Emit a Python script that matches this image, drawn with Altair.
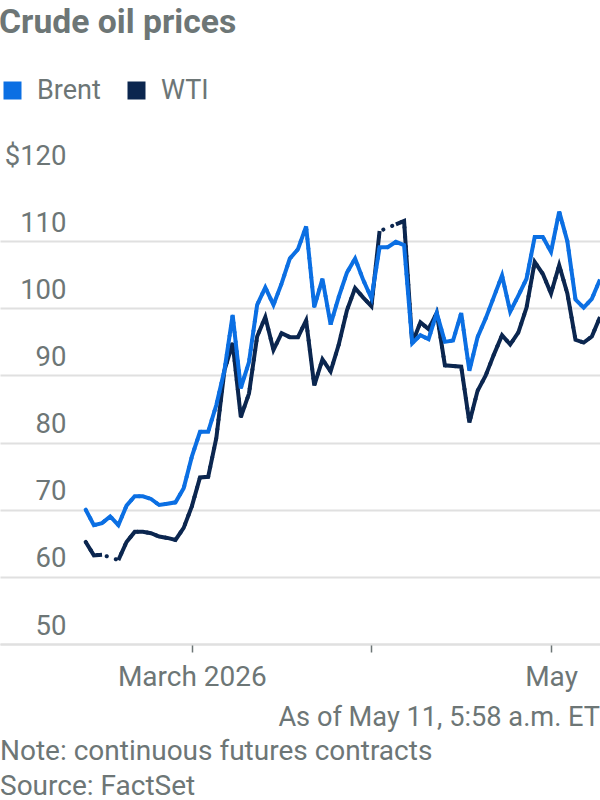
import altair as alt
import pandas as pd

# ---------------- data ----------------
dates = [
    "2026-02-11", "2026-02-12", "2026-02-13", "2026-02-16", "2026-02-17", "2026-02-18",
    "2026-02-19", "2026-02-20", "2026-02-23", "2026-02-24", "2026-02-25", "2026-02-26",
    "2026-02-27",
    "2026-03-02", "2026-03-03", "2026-03-04", "2026-03-05", "2026-03-06", "2026-03-09",
    "2026-03-10", "2026-03-11", "2026-03-12", "2026-03-13", "2026-03-16", "2026-03-17",
    "2026-03-18", "2026-03-19", "2026-03-20", "2026-03-23", "2026-03-24", "2026-03-25",
    "2026-03-26", "2026-03-27", "2026-03-30", "2026-03-31",
    "2026-04-01", "2026-04-02", "2026-04-03", "2026-04-06", "2026-04-07", "2026-04-08",
    "2026-04-09", "2026-04-10", "2026-04-13", "2026-04-14", "2026-04-15", "2026-04-16",
    "2026-04-17", "2026-04-20", "2026-04-21", "2026-04-22", "2026-04-23", "2026-04-24",
    "2026-04-27", "2026-04-28", "2026-04-29", "2026-04-30",
    "2026-05-01", "2026-05-04", "2026-05-05", "2026-05-06", "2026-05-07", "2026-05-08",
    "2026-05-11",
]

brent = [
    70.0, 67.7, 68.0, 69.0, 67.7, 70.6, 72.0, 72.0, 71.6, 70.7, 70.9, 71.1, 73.2,
    77.9, 81.6, 81.6, 85.6, 90.8, 99.0, 88.1, 92.0, 100.5, 103.1, 100.5, 103.7,
    107.4, 108.8, 112.2, 100.2, 104.4, 97.6, 101.7, 105.3, 107.4, 104.2,
    101.5, 109.1, 109.1, 109.9, 109.4, 94.8, 96.0, 95.4, 99.3, 95.0, 95.2, 99.3,
    90.7, 95.7, 98.5, 101.7, 104.9, 99.5, 101.9, 104.4, 110.6, 110.6,
    108.4, 114.4, 110.0, 101.3, 100.1, 101.4, 104.3,
]

wti = [
    65.2, 63.2, 63.3, None, 62.5, 65.2, 66.7, 66.7, 66.5, 66.0, 65.8, 65.5, 67.3,
    70.5, 74.8, 74.9, 80.7, 90.8, 94.8, 83.8, 87.3, 95.8, 98.7, 93.8, 96.3,
    95.7, 95.7, 98.2, 88.5, 92.4, 90.6, 94.6, 99.7, 103.0, 101.6,
    100.3, 111.5, None, 112.5, 113.0, 94.8, 97.9, 96.9, 99.3, 91.5, 91.4, 91.3,
    83.0, 87.7, 90.0, 93.1, 96.0, 94.6, 96.4, 100.1, 106.9, 105.1,
    102.2, 106.4, 102.2, 95.3, 94.9, 95.8, 98.7,
]

series = ["Brent", "WTI"]
colors = ["#0b6fe3", "#0b264f"]
y_ticks = [50, 60, 70, 80, 90, 100, 110, 120]
x_tick_dates = ["2026-03-02", "2026-04-01", "2026-05-01"]
x_tick_labels = ["March 2026", "", "May"]
title_text = "Crude oil prices"
as_of_text = "As of May 11, 5:58 a.m. ET"
note_lines = ["Note: continuous futures contracts", "Source: FactSet"]

FONT = "Roboto"
GREY = "#6d7676"
GRID = "#e0e0e0"

# ---------------- table ----------------
df = pd.DataFrame({"date": dates, "day": list(range(len(dates))), "Brent": brent, "WTI": wti})
long = df.melt(id_vars=["date", "day"], value_vars=series, var_name="series", value_name="price")

tick_days = [dates.index(d) for d in x_tick_dates]
x_label_expr = ""
for d, lab in zip(tick_days, x_tick_labels):
    x_label_expr += f"datum.value == {d} ? '{lab}' : "
x_label_expr += "''"

x_enc = alt.X(
    "day:Q",
    scale=alt.Scale(domain=[-10.5, len(dates) - 1], nice=False, zero=False),
    axis=alt.Axis(
        values=tick_days, labelExpr=x_label_expr, title=None, grid=False,
        domainColor=GRID, domainWidth=2, tickColor=GREY, tickWidth=1.5, tickSize=8,
        labelFontSize=28, labelFont=FONT, labelColor=GREY, labelPadding=11,
        labelFlush=False, labelOverlap=False,
    ),
)
y_enc = alt.Y(
    "price:Q",
    scale=alt.Scale(domain=[50, 120], nice=False, zero=False),
    axis=alt.Axis(
        values=y_ticks, labelExpr="datum.value == 120 ? '$' + datum.label : datum.label",
        title=None, domain=False, ticks=False, tickSize=0, grid=True,
        gridColor=GRID, gridWidth=2,
        gridOpacity={"condition": {"test": "datum.value == 120", "value": 0}, "value": 1},
        labelAlign="right", labelBaseline="alphabetic",
        labelPadding=-66, labelOffset=-10, labelFontSize=27.5, labelFont=FONT,
        labelColor=GREY,
    ),
)
color_enc = alt.Color(
    "series:N",
    scale=alt.Scale(domain=series, range=colors),
    legend=alt.Legend(
        title=None, orient="none", legendX=-1, legendY=-97, direction="horizontal",
        symbolType="square", symbolSize=1, symbolStrokeWidth=17,
        labelFontSize=27, labelFont=FONT, labelColor=GREY, labelOffset=11,
        columnPadding=1, padding=0,
    ),
)

base = alt.Chart(long)

layers = []
for name, col in zip(series[::-1], colors[::-1]):
    dotted = base.transform_filter(
        f"datum.series == '{name}' && isValid(datum.price)"
    ).mark_line(strokeWidth=4, strokeDash=[0.1, 9.5], strokeCap="round").encode(
        x=x_enc, y=y_enc, order="day:Q", color=alt.value(col)
    )
    solid = base.transform_filter(f"datum.series == '{name}'").mark_line(
        strokeWidth=4
    ).encode(x=x_enc, y=y_enc, order="day:Q", color=color_enc)
    layers += [dotted, solid]


def text_layer(txt, x, y, align, size=28):
    return alt.Chart(pd.DataFrame({"t": [txt]})).mark_text(
        align=align, baseline="alphabetic", font=FONT, fontSize=size, color=GREY
    ).encode(text="t:N", x=alt.value(x), y=alt.value(y))


layers.append(text_layer(as_of_text, 600, 551.5, "right", 27.2))
layers.append(text_layer(note_lines[0], 0, 585.5, "left"))
layers.append(text_layer(note_lines[1], 0, 620.5, "left"))

chart = alt.layer(*layers).properties(
    width=600,
    height=470,
    padding={"left": 0, "top": 174, "right": 0, "bottom": 156},
    autosize=alt.AutoSizeParams(type="none"),
    title=alt.Title(
        title_text, anchor="start", font=FONT, fontSize=33.7, fontWeight="bold",
        color=GREY, offset=37,
    ),
).configure_view(stroke=None)

chart.save("out.html", embed_options={"renderer": "svg", "actions": False})
